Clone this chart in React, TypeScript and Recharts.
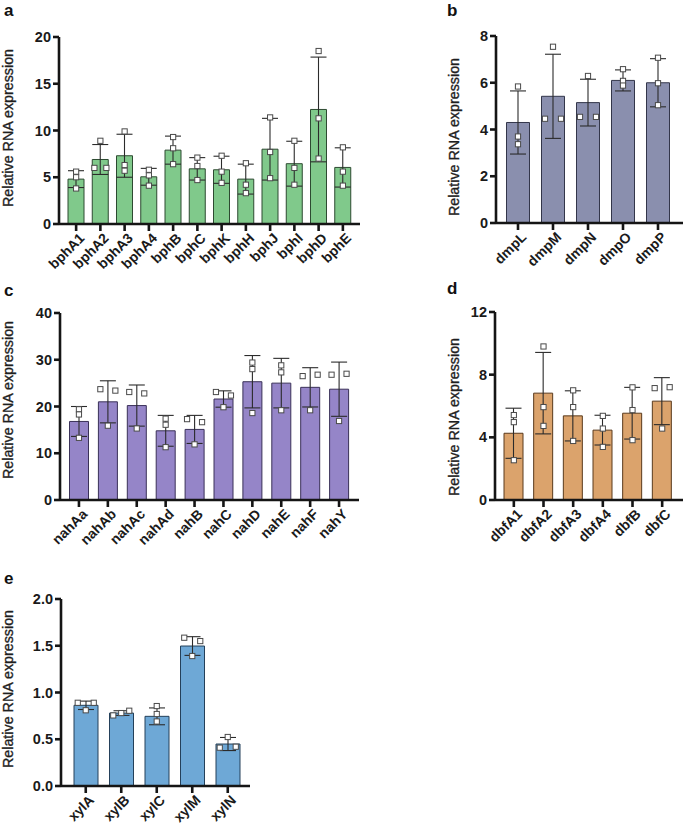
import React from "react";
import { ComposedChart, Bar, Scatter, XAxis, YAxis, ErrorBar } from "recharts";

// ---------- Panel a ----------
const aGenes = ["bphA1", "bphA2", "bphA3", "bphA4", "bphB", "bphC", "bphK", "bphH", "bphJ", "bphI", "bphD", "bphE"];
const aMeans = [4.8, 6.9, 7.3, 5.05, 7.9, 5.9, 5.8, 4.8, 8.0, 6.45, 12.25, 6.05];
const aSD = [0.9, 1.6, 2.3, 0.9, 1.5, 1.2, 1.45, 1.6, 3.3, 2.4, 5.6, 2.1];
const aRep1 = [5.6, 8.9, 9.9, 5.8, 9.3, 7.1, 7.3, 6.5, 11.4, 8.9, 18.5, 8.2];
const aRep2 = [5.0, 6.0, 6.3, 5.2, 8.1, 6.2, 5.6, 4.2, 7.7, 6.0, 11.3, 5.6];
const aRep3 = [3.8, 6.0, 5.7, 4.1, 6.4, 4.7, 4.4, 3.3, 4.9, 4.2, 7.0, 4.1];
const aTicks = [0, 5, 10, 15, 20];

// ---------- Panel b ----------
const bGenes = ["dmpL", "dmpM", "dmpN", "dmpO", "dmpP"];
const bMeans = [4.3, 5.42, 5.15, 6.1, 6.0];
const bSD = [1.35, 1.8, 1.0, 0.45, 1.03];
const bRep1 = [5.84, 7.54, 6.29, 6.58, 7.07];
const bRep2 = [3.7, 4.46, 4.54, 6.08, 5.98];
const bRep3 = [3.37, 4.46, 4.54, 5.88, 5.04];
const bTicks = [0, 2, 4, 6, 8];

// ---------- Panel c ----------
const cGenes = ["nahAa", "nahAb", "nahAc", "nahAd", "nahB", "nahC", "nahD", "nahE", "nahF", "nahY"];
const cMeans = [16.8, 21.0, 20.2, 14.8, 15.1, 21.6, 25.3, 25.0, 24.1, 23.7];
const cSD = [3.2, 4.5, 4.4, 3.3, 3.0, 1.75, 5.6, 5.3, 4.2, 5.8];
const cRep1 = [19.4, 23.7, 23.1, 17.4, 17.3, 23.1, 29.4, 28.8, 26.5, 26.8];
const cRep2 = [18.3, 23.4, 22.8, 16.1, 16.65, 22.35, 28.0, 27.3, 26.8, 27.0];
const cRep3 = [13.3, 15.9, 15.3, 11.3, 11.9, 19.85, 18.6, 19.2, 19.2, 16.9];
const cTicks = [0, 10, 20, 30, 40];

// ---------- Panel d ----------
const dGenes = ["dbfA1", "dbfA2", "dbfA3", "dbfA4", "dbfB", "dbfC"];
const dMeans = [4.26, 6.82, 5.37, 4.46, 5.54, 6.31];
const dSD = [1.6, 2.6, 1.6, 0.95, 1.65, 1.5];
const dRep1 = [5.42, 9.8, 7.0, 5.37, 7.19, 7.14];
const dRep2 = [4.97, 5.93, 5.93, 4.56, 5.74, 7.2];
const dRep3 = [2.54, 4.73, 3.77, 3.39, 3.82, 4.56];
const dTicks = [0, 4, 8, 12];

// ---------- Panel e ----------
const eGenes = ["xylA", "xylB", "xylC", "xylM", "xylN"];
const eMeans = [0.863, 0.78, 0.745, 1.497, 0.449];
const eSD = [0.045, 0.025, 0.09, 0.1, 0.07];
const eRep1 = [0.89, 0.755, 0.855, 1.586, 0.524];
const eRep2 = [0.81, 0.78, 0.77, 1.55, 0.41];
const eRep3 = [0.89, 0.805, 0.69, 1.39, 0.42];
const eTicks = [0, 0.5, 1.0, 1.5, 2.0];

const FONT = "'Liberation Sans', Arial, Helvetica, sans-serif";
const AXIS = "#151515";

type Row = { name: string; mean: number; sd: number; r1: number; r2: number; r3: number };

function buildRows(g: string[], m: number[], s: number[], r1: number[], r2: number[], r3: number[]): Row[] {
  return g.map((name, i) => ({ name, mean: m[i], sd: s[i], r1: r1[i], r2: r2[i], r3: r3[i] }));
}

function makePointShape(idx: number, max: number, spread: number) {
  return (props: any) => {
    const { cx, cy, payload } = props;
    if (cx == null || cy == null) return <g />;
    const vals = [payload.r1, payload.r2, payload.r3];
    const thr = max * 0.02;
    const cluster: number[] = [];
    vals.forEach((v, j) => {
      if (Math.abs(v - vals[idx]) <= thr) cluster.push(j);
    });
    const k = cluster.indexOf(idx);
    const n = cluster.length;
    let off = 0;
    if (n === 2) off = k === 0 ? -spread : spread;
    else if (n === 3) off = (k - 1) * spread;
    return (
      <rect x={cx + off - 2.6} y={cy - 2.6} width={5.2} height={5.2} fill="#ffffff" stroke="#4a4a4a" strokeWidth={1} />
    );
  };
}

const XTick = (props: any) => {
  const { x, y, payload } = props;
  return (
    <g transform={`translate(${x},${y})`}>
      <text
        x={3}
        y={0}
        dy="0.72em"
        textAnchor="end"
        transform="rotate(-45)"
        fontFamily={FONT}
        fontWeight="bold"
        fontSize={14}
        fill="#1a1a1a"
      >
        {payload.value}
      </text>
    </g>
  );
};

type PanelProps = {
  left: number;
  top: number;
  width: number;
  height: number;
  marginTop: number;
  marginRight: number;
  yWidth: number;
  xHeight: number;
  rows: Row[];
  ticks: number[];
  fmt?: (v: number) => string;
  fill: string;
  stroke: string;
  barSize: number;
  padL: number;
  padR: number;
  spread: number;
};

function Panel(p: PanelProps) {
  const max = p.ticks[p.ticks.length - 1];
  return (
    <div style={{ position: "absolute", left: p.left, top: p.top }}>
      <ComposedChart
        width={p.width}
        height={p.height}
        data={p.rows}
        margin={{ top: p.marginTop, right: p.marginRight, bottom: 0, left: 0 }}
      >
        <XAxis
          dataKey="name"
          type="category"
          height={p.xHeight}
          padding={{ left: p.padL, right: p.padR }}
          axisLine={{ stroke: AXIS, strokeWidth: 2.6 }}
          tickLine={{ stroke: AXIS, strokeWidth: 2.6 }}
          tickSize={7}
          tickMargin={3}
          interval={0}
          tick={<XTick />}
        />
        <YAxis
          type="number"
          width={p.yWidth}
          domain={[0, max]}
          ticks={p.ticks}
          tickFormatter={p.fmt}
          axisLine={{ stroke: AXIS, strokeWidth: 2.6 }}
          tickLine={{ stroke: AXIS, strokeWidth: 2.6 }}
          tickSize={6}
          tickMargin={2}
          tick={{ fontFamily: FONT, fontWeight: "bold", fontSize: 14.5, fill: "#1a1a1a" }}
          allowDataOverflow
        />
        <Bar dataKey="mean" fill={p.fill} stroke={p.stroke} strokeWidth={1} barSize={p.barSize} isAnimationActive={false}>
          <ErrorBar dataKey="sd" width={8} stroke="#2b2b2b" strokeWidth={1.1} direction="y" />
        </Bar>
        <Scatter dataKey="r1" shape={makePointShape(0, max, p.spread)} isAnimationActive={false} />
        <Scatter dataKey="r2" shape={makePointShape(1, max, p.spread)} isAnimationActive={false} />
        <Scatter dataKey="r3" shape={makePointShape(2, max, p.spread)} isAnimationActive={false} />
      </ComposedChart>
    </div>
  );
}

const YTitle = ({ x, y }: { x: number; y: number }) => (
  <text
    x={x}
    y={y}
    transform={`rotate(-90, ${x}, ${y})`}
    textAnchor="middle"
    dominantBaseline="central"
    fontFamily={FONT}
    fontSize={14.3}
    fill="#1f1f1f"
    stroke="#1f1f1f"
    strokeWidth={0.35}
  >
    Relative RNA expression
  </text>
);

const Letter = ({ x, y, t }: { x: number; y: number; t: string }) => (
  <text x={x} y={y} fontFamily={FONT} fontWeight="bold" fontSize={17} fill="#111">
    {t}
  </text>
);

export default function App() {
  const aRows = buildRows(aGenes, aMeans, aSD, aRep1, aRep2, aRep3);
  const bRows = buildRows(bGenes, bMeans, bSD, bRep1, bRep2, bRep3);
  const cRows = buildRows(cGenes, cMeans, cSD, cRep1, cRep2, cRep3);
  const dRows = buildRows(dGenes, dMeans, dSD, dRep1, dRep2, dRep3);
  const eRows = buildRows(eGenes, eMeans, eSD, eRep1, eRep2, eRep3);
  return (
    <div style={{ position: "absolute", left: 0, top: 0, width: 685, height: 831, background: "#fff", overflow: "hidden" }}>
      <Panel
        left={0} top={0} width={365} height={280} marginTop={37} marginRight={5} yWidth={59} xHeight={56}
        rows={aRows} ticks={aTicks} fill="#80c98b" stroke="#2d4a31" barSize={16} padL={5} padR={5} spread={6}
      />
      <Panel
        left={437} top={0} width={248} height={280} marginTop={36} marginRight={2} yWidth={59} xHeight={57}
        rows={bRows} ticks={bTicks} fill="#8a8fae" stroke="#33364a" barSize={23} padL={4.5} padR={7.5} spread={8}
      />
      <Panel
        left={0} top={270} width={364} height={290} marginTop={43} marginRight={5} yWidth={60} xHeight={60}
        rows={cRows} ticks={cTicks} fill="#9585c8" stroke="#3a3158" barSize={19} padL={4.5} padR={5.5} spread={7.5}
      />
      <Panel
        left={436} top={270} width={249} height={290} marginTop={42} marginRight={2} yWidth={59} xHeight={60}
        rows={dRows} ticks={dTicks} fill="#dba36c" stroke="#5a3a1c" barSize={19} padL={4} padR={6} spread={7.5}
      />
      <Panel
        left={0} top={560} width={254} height={271} marginTop={39} marginRight={4} yWidth={61} xHeight={45}
        rows={eRows} ticks={eTicks} fmt={(v: number) => v.toFixed(1)} fill="#6ea8d6" stroke="#24405a" barSize={24} padL={7} padR={4.5} spread={8}
      />
      <svg width={685} height={831} style={{ position: "absolute", left: 0, top: 0, pointerEvents: "none" }}>
        <Letter x={4} y={16} t="a" />
        <Letter x={447} y={16} t="b" />
        <Letter x={4} y={296} t="c" />
        <Letter x={447} y={294} t="d" />
        <Letter x={4} y={584} t="e" />
        <YTitle x={8} y={128} />
        <YTitle x={454} y={137} />
        <YTitle x={8} y={400} />
        <YTitle x={454} y={417} />
        <YTitle x={8} y={689} />
      </svg>
    </div>
  );
}
